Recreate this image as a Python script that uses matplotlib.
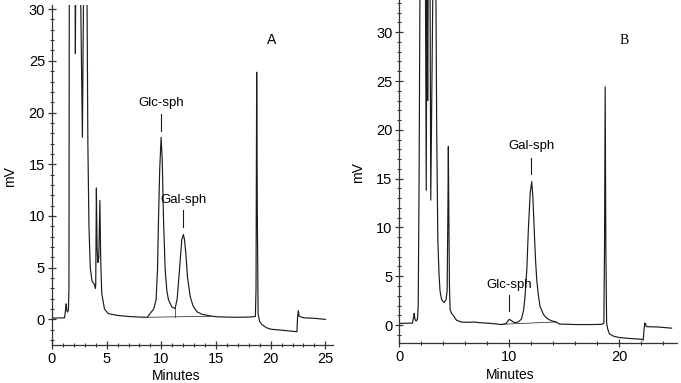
#!/usr/bin/env python3
"""Two HPLC chromatograms (A, B): Glc-sph and Gal-sph peaks."""

import matplotlib
matplotlib.use("Agg")
import matplotlib.pyplot as plt
from matplotlib.ticker import MultipleLocator

plt.rcParams["font.family"] = ["Liberation Sans", "DejaVu Sans"]

# panel A trace (minutes, mV); 40 = off scale
time_a = [0.0, 1.15, 1.25, 1.3, 1.35, 1.42, 1.5, 1.55, 1.59, 2.08, 2.14, 2.2,
          2.52, 2.78, 2.95, 3.15, 3.22, 3.28, 3.38, 3.5, 3.66, 3.87, 3.97,
          4.0, 4.06, 4.12, 4.2, 4.28, 4.38, 4.45, 4.55, 4.8, 5.15, 6.0, 7.0,
          8.0, 8.7, 9.0, 9.3, 9.52, 9.65, 9.74, 9.85, 9.98, 10.08, 10.2,
          10.35, 10.5, 10.65, 10.96, 11.26, 11.45, 11.66, 11.87, 12.02, 12.12,
          12.24, 12.39, 12.64, 12.9, 13.25, 13.7, 14.5, 15.1, 16.6, 18.0,
          18.6, 18.66, 18.72, 18.78, 18.85, 18.99, 19.2, 19.6, 20.0, 21.0,
          22.0, 22.4, 22.45, 22.52, 22.6, 23.0, 24.0, 25.0]
mv_a = [0.12, 0.15, 1.0, 1.5, 0.9, 0.7, 0.9, 3.0, 40, 40, 25.7, 40,
        40, 17.6, 40, 40, 28, 17, 9, 5, 3.7, 3.4, 3.0,
        3.3, 12.7, 7.0, 5.5, 6.0, 11.5, 6.0, 2.5, 1.0, 0.55, 0.38, 0.28,
        0.22, 0.2, 0.6, 1.0, 1.9, 4.8, 9.6, 14.5, 17.6, 15.5, 9.6,
        4.8, 2.8, 1.9, 1.2, 1.05, 2.0, 4.8, 7.7, 8.2, 7.7,
        6.4, 4.1, 2.2, 1.3, 0.74, 0.5, 0.32, 0.25, 0.2, 0.22,
        0.28, 3.0, 23.9, 10.0, 0.5, -0.2, -0.5, -0.8, -0.95, -1.05,
        -1.15, -1.2, 0.0, 0.85, 0.3, 0.15, 0.1, 0.0]

# panel B trace
time_b = [0.0, 1.2, 1.3, 1.36, 1.42, 1.52, 1.65, 1.72, 1.8, 1.9, 2.36, 2.45,
          2.52, 2.58, 2.65, 2.78, 2.86, 3.1, 3.3, 3.4, 3.5, 3.6, 3.7, 3.85,
          4.06, 4.25, 4.35, 4.42, 4.46, 4.5, 4.56, 4.62, 4.75, 4.9, 5.2, 5.65,
          6.5, 6.8, 7.2, 8.5, 9.3, 9.7, 9.9, 10.0, 10.2, 10.45, 10.8, 11.1,
          11.3, 11.43, 11.6, 11.73, 11.9, 12.04, 12.15, 12.27, 12.38, 12.5,
          12.65, 12.8, 13.1, 13.4, 13.8, 14.15, 14.6, 16.0, 17.5, 18.4, 18.6,
          18.66, 18.72, 18.78, 18.85, 18.95, 19.1, 19.5, 20.0, 21.0, 22.0,
          22.18, 22.25, 22.32, 22.4, 22.45, 22.6, 23.5, 24.76]
mv_b = [0.17, 0.2, 0.8, 1.2, 0.6, 0.4, 0.6, 2.0, 15, 40, 40, 13.8,
        40, 23.0, 40, 40, 12.8, 40, 40, 20, 9, 5.5, 3.5, 2.6,
        2.3, 2.6, 3.5, 12, 18.3, 12, 4.0, 1.6, 1.2, 1.0, 0.5, 0.3,
        0.28, 0.32, 0.25, 0.15, 0.05, 0.15, 0.45, 0.58, 0.45, 0.25, 0.3, 0.6,
        1.5, 2.9, 5.8, 9.7, 13.5, 14.7, 13.0, 9.7, 6.8, 4.6,
        3.0, 1.9, 1.1, 0.7, 0.45, 0.34, 0.1, 0.05, 0.05, 0.07, 0.2,
        8.0, 24.4, 8.0, 0.2, -0.4, -0.9, -1.15, -1.28, -1.38, -1.45,
        -1.54, -0.5, 0.2, 0.1, -0.15, -0.17, -0.2, -0.32]

# integration baselines (start, end) and drop line at the valley in A
base_a_t = [8.7, 14.5]
base_a_v = [0.2, 0.3]
drop_a_t = [11.26, 11.26]
drop_a_v = [0.24, 1.05]
base_b_t = [9.4, 14.3]
base_b_v = [0.08, 0.32]

# peak labels: (text, x, y of text, marker top, marker bottom)
labels_a = [("Glc-sph", 10.0, 20.9, 19.9, 18.2),
            ("Gal-sph", 12.0, 11.5, 10.6, 8.95)]
labels_b = [("Gal-sph", 12.0, 18.3, 17.1, 15.5),
            ("Glc-sph", 10.0, 4.1, 3.05, 1.4)]

W, H = 681, 383
LINE = "#1c1c1c"

fig = plt.figure(figsize=(W / 100, H / 100), dpi=100)


def px_axes(left, right, top, bottom):
    return fig.add_axes([left / W, 1 - bottom / H, (right - left) / W,
                         (bottom - top) / H])


def style(ax, xmajor, xminor):
    for s in ("top", "right"):
        ax.spines[s].set_visible(False)
    for s in ("left", "bottom"):
        ax.spines[s].set_color("#333333")
        ax.spines[s].set_linewidth(0.9)
    ax.xaxis.set_major_locator(MultipleLocator(xmajor))
    ax.xaxis.set_minor_locator(MultipleLocator(xminor))
    ax.yaxis.set_major_locator(MultipleLocator(5))
    ax.yaxis.set_minor_locator(MultipleLocator(1))
    ax.tick_params(which="major", direction="inout", length=6, width=0.9,
                   labelsize=10.5, pad=2, colors="#333333", labelcolor="black")
    ax.tick_params(which="minor", direction="inout", length=3.5, width=0.8,
                   colors="#333333")


def draw(ax, t, v, bt, bv, labels):
    ax.plot(t, v, color=LINE, lw=0.85)
    ax.plot(bt, bv, color=LINE, lw=0.5)
    for text, x, ty, m1, m2 in labels:
        ax.text(x, ty, text, ha="center", va="center", fontsize=9.5)
        ax.plot([x, x], [m1, m2], color=LINE, lw=0.8)


# panel A
ax1 = px_axes(52, 333, 5, 345)
draw(ax1, time_a, mv_a, base_a_t, base_a_v, labels_a)
ax1.plot(drop_a_t, drop_a_v, color=LINE, lw=0.5)
ax1.set_xlim(0, 25.7)
ax1.set_ylim(-2.48, 30.4)
style(ax1, 5, 1)
ax1.text(20.1, 27.0, "A", ha="center", va="center", fontsize=10)

# panel B
ax2 = px_axes(399.3, 677, 0, 343)
draw(ax2, time_b, mv_b, base_b_t, base_b_v, labels_b)
ax2.set_xlim(0, 25.25)
ax2.set_ylim(-1.84, 33.3)
style(ax2, 10, 2)
ax2.text(20.4, 29.2, "B", ha="center", va="center", fontsize=10,
         family=["Liberation Serif", "DejaVu Serif"])

# axis titles
for x, y in ((10, 177), (358, 173)):
    fig.text(x / W, 1 - y / H, "mV", rotation=90, ha="center", va="center",
             fontsize=10)
for x, y in ((175.7, 375.5), (510, 375)):
    fig.text(x / W, 1 - y / H, "Minutes", ha="center", va="center",
             fontsize=10)

fig.savefig("out.png", dpi=100)
